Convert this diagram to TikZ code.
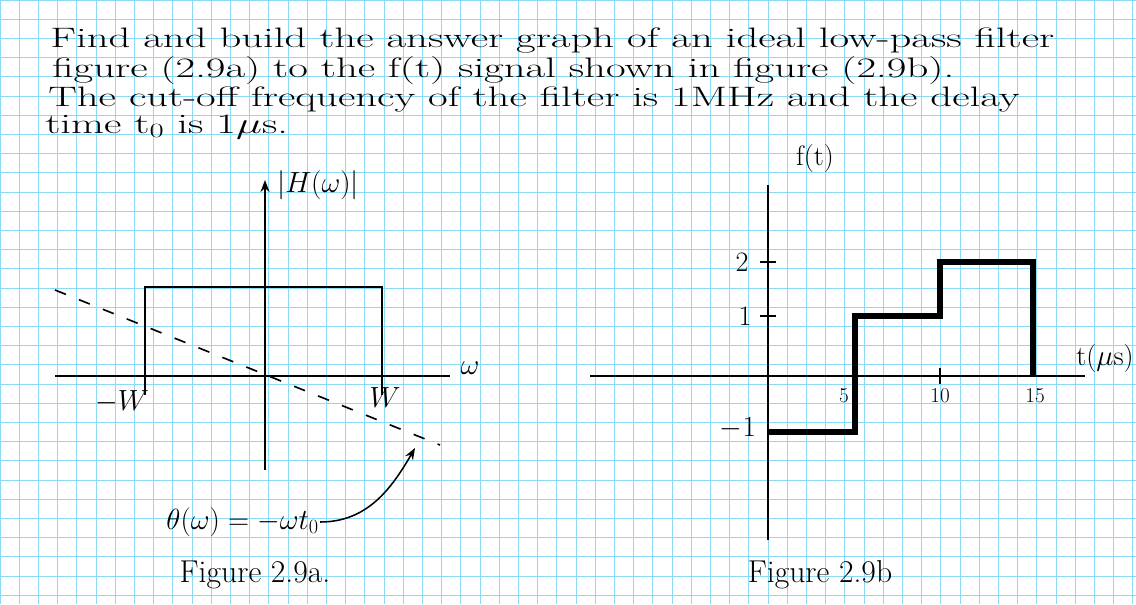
\documentclass[tikz,border=0pt]{standalone}
\usetikzlibrary{arrows.meta}
\begin{document}
\begin{tikzpicture}[x=0.03cm,y=-0.03cm,
  txt/.style={font=\fontsize{24}{26}\selectfont,inner sep=0pt,xscale=1.52},
  figcap/.style={font=\fontsize{27}{29}\selectfont,inner sep=0pt},
  axis/.style={line width=1.6pt},
  sig/.style={line width=5pt},
  lbl/.style={font=\fontsize{24}{26}\selectfont,inner sep=1pt},
  tk/.style={font=\fontsize{18}{20}\selectfont,inner sep=1pt}]
\useasboundingbox (0,0) rectangle (1136,604);
\fill[white] (0,0) rectangle (1136,604);
\foreach \i in {0,...,60} \draw[cyan!45,line width=0.7pt] (\i*19.2,0) -- (\i*19.2,604);
\foreach \j in {0,...,32} \draw[cyan!45,line width=0.7pt] (0,\j*19.2) -- (1136,\j*19.2);
% text
\node[txt,anchor=west] (l1) at (50,40) {Find and build the answer graph of an ideal low-pass filter};
\node[txt,anchor=west] (l2) at (52,70) {figure (2.9a) to the f(t) signal shown in figure (2.9b).};
\node[txt,anchor=west] (l3) at (48,99) {The cut-off frequency of the filter is 1MHz and the delay};
\node[txt,anchor=west] (l4) at (45,127) {time t$_0$ is 1$\mu$s.};
% left graph
\coordinate (ytop) at (265,180); \coordinate (ybot) at (265,470);
\coordinate (xl) at (55,376); \coordinate (xr) at (450,376);
\draw[axis,-{Stealth}] (ybot) -- (ytop);
\draw[axis] (xl) -- (xr);
\coordinate (a) at (145,395); \coordinate (b) at (145,287); \coordinate (c) at (382,287); \coordinate (d) at (382,395);
\draw[line width=1.3pt] (a) -- (b) -- (c) -- (d);
\node[lbl] (mw) at (122,402) {$-W$};
\node[lbl] (pw) at (385,398) {$W$};
\node[lbl] (om) at (470,368) {$\omega$};
\node[lbl] (H) at (318,185) {$|H(\omega)|$};
\coordinate (d1) at (55,290); \coordinate (d2) at (440,445);
\draw[line width=1.4pt,dash pattern=on 10pt off 12pt] (d1) -- (d2);
\node[lbl,anchor=west] (th) at (165,522) {$\theta(\omega)=-\omega t_0$};
\coordinate (tip) at (415,448);
\draw[line width=1.3pt,-{Stealth[length=10pt]}] (th.east) to[out=0,in=-120] (tip);
\node[figcap] (fa) at (255,575) {Figure 2.9a.};
% right graph
\coordinate (ry1) at (768,185); \coordinate (ry2) at (768,540);
\coordinate (rx1) at (590,376); \coordinate (rx2) at (1085,376);
\draw[axis] (ry1) -- (ry2);
\draw[axis] (rx1) -- (rx2);
\node[lbl] (ft) at (815,158) {f(t)};
\node[lbl] (t2) at (742,262) {2}; \draw[axis] (760,262) -- (776,262);
\node[lbl] (t1) at (745,316) {1}; \draw[axis] (760,316) -- (776,316);
\node[lbl] (tm1) at (738,428) {$-1$};
\node[tk] (x5) at (844,396) {5}; \draw[axis] (855,368) -- (855,384);
\node[tk] (x10) at (940,396) {10}; \draw[axis] (940,368) -- (940,384);
\node[tk] (x15) at (1035,396) {15};
\node[lbl] (tus) at (1105,358) {t($\mu$s)};
\draw[sig] (768,432) -- (855,432) -- (855,316) -- (940,316) -- (940,262) -- (1033,262) -- (1033,376);
\node[figcap] (fb) at (820,575) {Figure 2.9b};
\end{tikzpicture}
\end{document}
